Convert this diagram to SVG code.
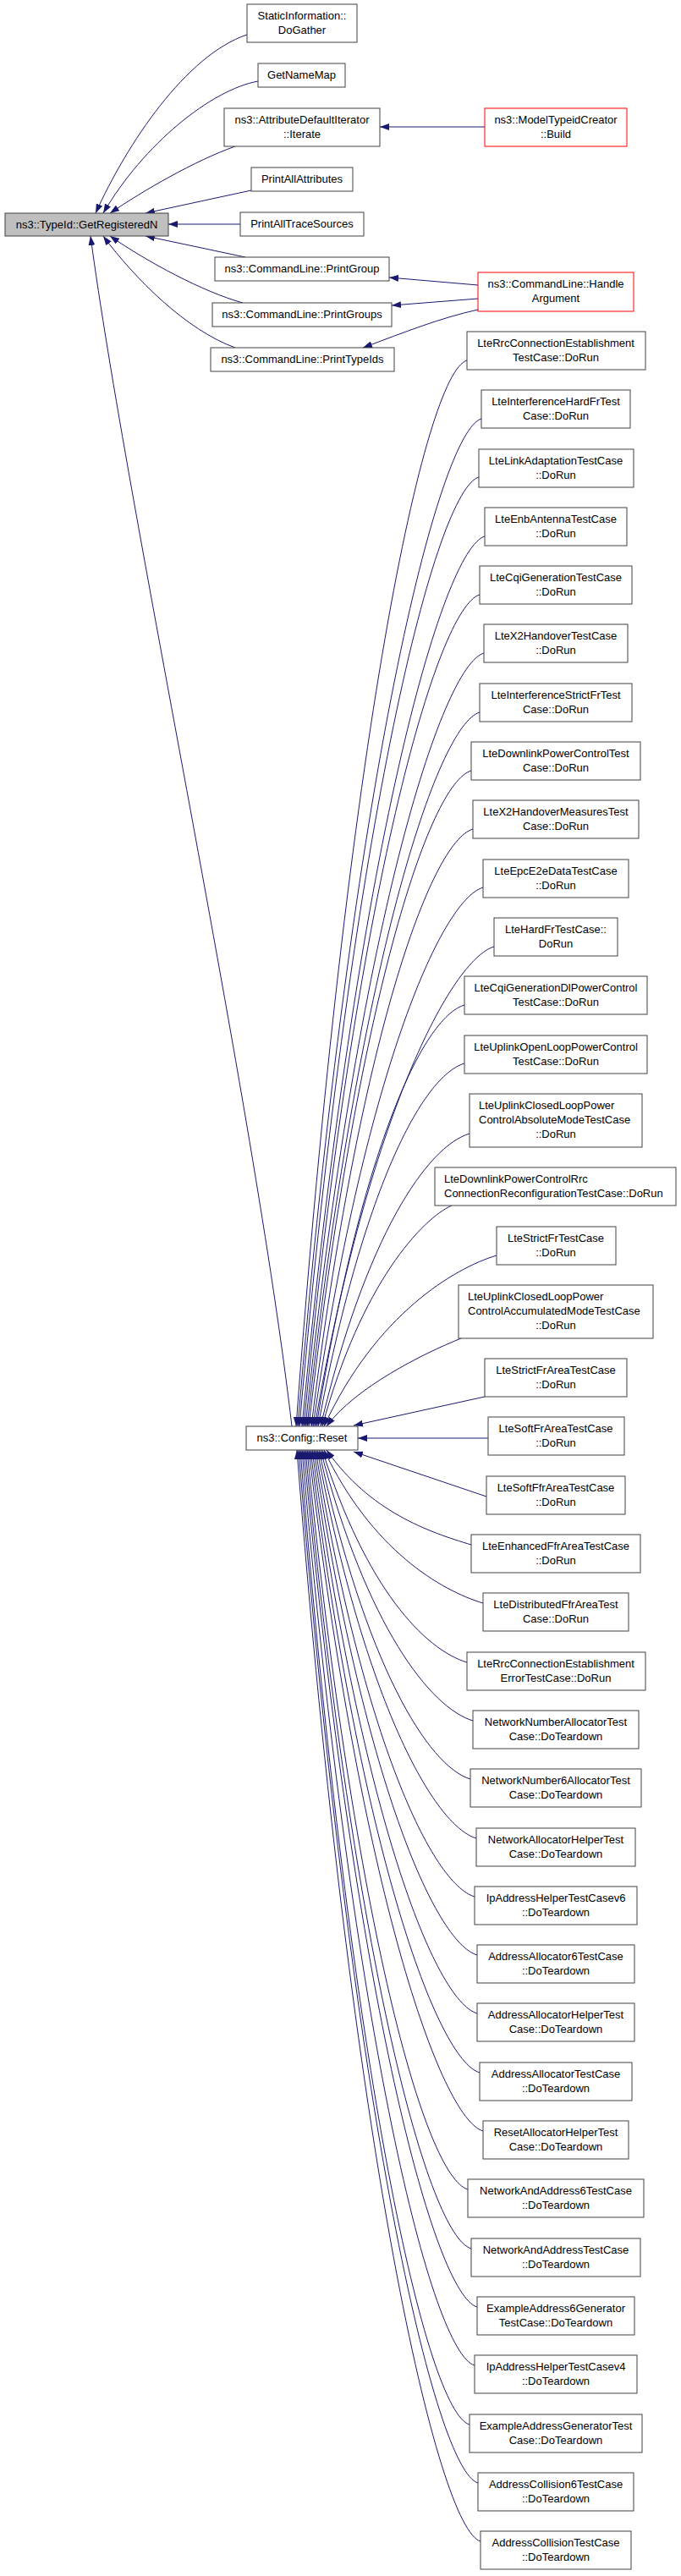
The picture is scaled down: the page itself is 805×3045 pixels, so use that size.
<svg xmlns="http://www.w3.org/2000/svg" width="805" height="3045" viewBox="0 0 805 3045">
<style>
.n rect{fill:#fff;stroke:#404040;stroke-width:1}
.n.h rect{fill:#bfbfbf}
.n.r rect{stroke:#ff0000}
text{font-family:"Liberation Sans",Arial,sans-serif;font-size:13px;fill:#000;text-anchor:middle}
text.l{text-anchor:start}
#edges path{fill:none;stroke:#191970;stroke-width:1;marker-end:url(#a)}
</style>
<defs><marker id="a" markerUnits="userSpaceOnUse" markerWidth="11" markerHeight="8" refX="11" refY="4" orient="auto"><path d="M0,0 L11,4 L0,8 z" fill="#191970"/></marker></defs>
<rect width="805" height="3045" fill="#fff"/>
<g id="edges">
<path d="M292,41 C220,65 150,170 113,252"/>
<path d="M305,96 C250,106 170,170 122,252"/>
<path d="M278,173 C230,190 170,225 130,252"/>
<path d="M297,225 L172,252"/>
<path d="M284,265 L199,265"/>
<path d="M290,304 L172,279"/>
<path d="M287,358 C240,345 175,310 130,279"/>
<path d="M278,411 C220,390 160,330 122,279"/>
<path d="M345,1686 C300,1300 150,600 107,279"/>
<path d="M573,150 L449,150"/>
<path d="M565,337 L460,328"/>
<path d="M565,353 L463,361"/>
<path d="M565,366 C520,376 480,392 429,411"/>
<path d="M552,426 C502,441 411,867 350,1686"/>
<path d="M569,495 C519,510 417,912 352,1686"/>
<path d="M566,564 C516,579 418,957 354,1686"/>
<path d="M573,634 C523,649 422,1002 357,1686"/>
<path d="M567,703 C517,718 421,1047 359,1686"/>
<path d="M572,772 C522,787 424,1092 361,1686"/>
<path d="M567,842 C517,857 424,1137 363,1686"/>
<path d="M557,911 C507,926 423,1182 365,1686"/>
<path d="M559,980 C509,995 425,1227 368,1686"/>
<path d="M571,1049 C521,1064 430,1272 370,1686"/>
<path d="M584,1119 C534,1134 436,1317 372,1686"/>
<path d="M549,1188 C499,1203 426,1362 374,1686"/>
<path d="M549,1257 C499,1272 428,1407 376,1686"/>
<path d="M555,1340 C505,1355 432,1461 379,1686"/>
<path d="M534,1425 C500,1440 427,1516 381,1686"/>
<path d="M587,1484 C537,1499 444,1554 383,1686"/>
<path d="M545,1582 C500,1600 420,1640 386,1686"/>
<path d="M573,1651 L418,1685"/>
<path d="M577,1700 L423,1700"/>
<path d="M575,1769 L418,1716"/>
<path d="M557,1826 C507,1811 437,1787 386,1714"/>
<path d="M571,1895 C521,1880 439,1832 383,1714"/>
<path d="M552,1965 C502,1950 432,1877 381,1714"/>
<path d="M559,2034 C509,2019 433,1922 379,1714"/>
<path d="M556,2103 C506,2088 431,1967 377,1714"/>
<path d="M563,2173 C513,2158 431,2012 375,1714"/>
<path d="M561,2242 C511,2227 429,2057 373,1714"/>
<path d="M564,2311 C514,2296 429,2102 371,1714"/>
<path d="M564,2380 C514,2365 428,2147 369,1714"/>
<path d="M567,2450 C517,2435 427,2192 367,1714"/>
<path d="M571,2519 C521,2504 427,2237 365,1714"/>
<path d="M553,2588 C503,2573 420,2282 363,1714"/>
<path d="M557,2658 C507,2643 420,2328 361,1714"/>
<path d="M564,2727 C514,2712 421,2372 359,1714"/>
<path d="M561,2796 C511,2781 418,2417 357,1714"/>
<path d="M555,2866 C505,2851 415,2463 355,1714"/>
<path d="M565,2935 C515,2920 417,2508 353,1714"/>
<path d="M568,3004 C518,2989 416,2552 351,1714"/>
</g>
<g id="n0" class="n h"><rect x="6" y="252" width="193" height="27"/><text x="102.5" y="270">ns3::TypeId::GetRegisteredN</text></g>
<g id="n1" class="n"><rect x="292" y="5" width="130" height="45"/><text x="357" y="23">StaticInformation::</text><text x="357" y="40">DoGather</text></g>
<g id="n2" class="n"><rect x="305" y="75" width="103" height="28"/><text x="356.5" y="93">GetNameMap</text></g>
<g id="n3" class="n"><rect x="265" y="128" width="184" height="45"/><text x="357" y="146">ns3::AttributeDefaultIterator</text><text x="357" y="163">::Iterate</text></g>
<g id="n4" class="n r"><rect x="573" y="128" width="168" height="45"/><text x="657" y="146">ns3::ModelTypeidCreator</text><text x="657" y="163">::Build</text></g>
<g id="n5" class="n"><rect x="297" y="198" width="120" height="28"/><text x="357" y="216">PrintAllAttributes</text></g>
<g id="n6" class="n"><rect x="284" y="251" width="146" height="28"/><text x="357" y="269">PrintAllTraceSources</text></g>
<g id="n7" class="n"><rect x="254" y="304" width="206" height="28"/><text x="357" y="322">ns3::CommandLine::PrintGroup</text></g>
<g id="n8" class="n"><rect x="251" y="358" width="212" height="28"/><text x="357" y="376">ns3::CommandLine::PrintGroups</text></g>
<g id="n9" class="n"><rect x="249" y="411" width="217" height="28"/><text x="357.5" y="429">ns3::CommandLine::PrintTypeIds</text></g>
<g id="n10" class="n r"><rect x="565" y="322" width="184" height="46"/><text x="657" y="340">ns3::CommandLine::Handle</text><text x="657" y="357">Argument</text></g>
<g id="n11" class="n"><rect x="291" y="1686" width="132" height="28"/><text x="357" y="1704">ns3::Config::Reset</text></g>
<g id="r1" class="n"><rect x="552" y="392" width="211" height="45"/><text x="657" y="410">LteRrcConnectionEstablishment</text><text x="657" y="427">TestCase::DoRun</text></g>
<g id="r2" class="n"><rect x="569" y="461" width="176" height="45"/><text x="657" y="479">LteInterferenceHardFrTest</text><text x="657" y="496">Case::DoRun</text></g>
<g id="r3" class="n"><rect x="566" y="531" width="183" height="45"/><text x="657" y="549">LteLinkAdaptationTestCase</text><text x="657" y="566">::DoRun</text></g>
<g id="r4" class="n"><rect x="573" y="600" width="168" height="45"/><text x="657" y="618">LteEnbAntennaTestCase</text><text x="657" y="635">::DoRun</text></g>
<g id="r5" class="n"><rect x="567" y="669" width="180" height="45"/><text x="657" y="687">LteCqiGenerationTestCase</text><text x="657" y="704">::DoRun</text></g>
<g id="r6" class="n"><rect x="572" y="738" width="170" height="45"/><text x="657" y="756">LteX2HandoverTestCase</text><text x="657" y="773">::DoRun</text></g>
<g id="r7" class="n"><rect x="567" y="808" width="180" height="45"/><text x="657" y="826">LteInterferenceStrictFrTest</text><text x="657" y="843">Case::DoRun</text></g>
<g id="r8" class="n"><rect x="557" y="877" width="200" height="45"/><text x="657" y="895">LteDownlinkPowerControlTest</text><text x="657" y="912">Case::DoRun</text></g>
<g id="r9" class="n"><rect x="559" y="946" width="196" height="45"/><text x="657" y="964">LteX2HandoverMeasuresTest</text><text x="657" y="981">Case::DoRun</text></g>
<g id="r10" class="n"><rect x="571" y="1016" width="172" height="45"/><text x="657" y="1034">LteEpcE2eDataTestCase</text><text x="657" y="1051">::DoRun</text></g>
<g id="r11" class="n"><rect x="584" y="1085" width="146" height="45"/><text x="657" y="1103">LteHardFrTestCase::</text><text x="657" y="1120">DoRun</text></g>
<g id="r12" class="n"><rect x="549" y="1154" width="216" height="45"/><text x="657" y="1172">LteCqiGenerationDlPowerControl</text><text x="657" y="1189">TestCase::DoRun</text></g>
<g id="r13" class="n"><rect x="549" y="1224" width="216" height="45"/><text x="657" y="1242">LteUplinkOpenLoopPowerControl</text><text x="657" y="1259">TestCase::DoRun</text></g>
<g id="r14" class="n"><rect x="555" y="1293" width="204" height="63"/><text class="l" x="566" y="1311">LteUplinkClosedLoopPower</text><text class="l" x="566" y="1328">ControlAbsoluteModeTestCase</text><text x="657" y="1345">::DoRun</text></g>
<g id="r15" class="n"><rect x="514" y="1380" width="285" height="45"/><text class="l" x="525" y="1398">LteDownlinkPowerControlRrc</text><text class="l" x="525" y="1415">ConnectionReconfigurationTestCase::DoRun</text></g>
<g id="r16" class="n"><rect x="587" y="1450" width="141" height="45"/><text x="657" y="1468">LteStrictFrTestCase</text><text x="657" y="1485">::DoRun</text></g>
<g id="r17" class="n"><rect x="542" y="1519" width="230" height="63"/><text class="l" x="553" y="1537">LteUplinkClosedLoopPower</text><text class="l" x="553" y="1554">ControlAccumulatedModeTestCase</text><text x="657" y="1571">::DoRun</text></g>
<g id="r18" class="n"><rect x="573" y="1606" width="168" height="45"/><text x="657" y="1624">LteStrictFrAreaTestCase</text><text x="657" y="1641">::DoRun</text></g>
<g id="r19" class="n"><rect x="577" y="1675" width="161" height="45"/><text x="657" y="1693">LteSoftFrAreaTestCase</text><text x="657" y="1710">::DoRun</text></g>
<g id="r20" class="n"><rect x="575" y="1745" width="164" height="45"/><text x="657" y="1763">LteSoftFfrAreaTestCase</text><text x="657" y="1780">::DoRun</text></g>
<g id="r21" class="n"><rect x="557" y="1814" width="200" height="45"/><text x="657" y="1832">LteEnhancedFfrAreaTestCase</text><text x="657" y="1849">::DoRun</text></g>
<g id="r22" class="n"><rect x="571" y="1883" width="172" height="45"/><text x="657" y="1901">LteDistributedFfrAreaTest</text><text x="657" y="1918">Case::DoRun</text></g>
<g id="r23" class="n"><rect x="552" y="1953" width="211" height="45"/><text x="657" y="1971">LteRrcConnectionEstablishment</text><text x="657" y="1988">ErrorTestCase::DoRun</text></g>
<g id="r24" class="n"><rect x="559" y="2022" width="196" height="45"/><text x="657" y="2040">NetworkNumberAllocatorTest</text><text x="657" y="2057">Case::DoTeardown</text></g>
<g id="r25" class="n"><rect x="556" y="2091" width="202" height="45"/><text x="657" y="2109">NetworkNumber6AllocatorTest</text><text x="657" y="2126">Case::DoTeardown</text></g>
<g id="r26" class="n"><rect x="563" y="2161" width="188" height="45"/><text x="657" y="2179">NetworkAllocatorHelperTest</text><text x="657" y="2196">Case::DoTeardown</text></g>
<g id="r27" class="n"><rect x="561" y="2230" width="192" height="45"/><text x="657" y="2248">IpAddressHelperTestCasev6</text><text x="657" y="2265">::DoTeardown</text></g>
<g id="r28" class="n"><rect x="564" y="2299" width="186" height="45"/><text x="657" y="2317">AddressAllocator6TestCase</text><text x="657" y="2334">::DoTeardown</text></g>
<g id="r29" class="n"><rect x="564" y="2368" width="186" height="45"/><text x="657" y="2386">AddressAllocatorHelperTest</text><text x="657" y="2403">Case::DoTeardown</text></g>
<g id="r30" class="n"><rect x="567" y="2438" width="180" height="45"/><text x="657" y="2456">AddressAllocatorTestCase</text><text x="657" y="2473">::DoTeardown</text></g>
<g id="r31" class="n"><rect x="571" y="2507" width="172" height="45"/><text x="657" y="2525">ResetAllocatorHelperTest</text><text x="657" y="2542">Case::DoTeardown</text></g>
<g id="r32" class="n"><rect x="553" y="2576" width="208" height="45"/><text x="657" y="2594">NetworkAndAddress6TestCase</text><text x="657" y="2611">::DoTeardown</text></g>
<g id="r33" class="n"><rect x="557" y="2646" width="200" height="45"/><text x="657" y="2664">NetworkAndAddressTestCase</text><text x="657" y="2681">::DoTeardown</text></g>
<g id="r34" class="n"><rect x="564" y="2715" width="186" height="45"/><text x="657" y="2733">ExampleAddress6Generator</text><text x="657" y="2750">TestCase::DoTeardown</text></g>
<g id="r35" class="n"><rect x="561" y="2784" width="192" height="45"/><text x="657" y="2802">IpAddressHelperTestCasev4</text><text x="657" y="2819">::DoTeardown</text></g>
<g id="r36" class="n"><rect x="555" y="2854" width="204" height="45"/><text x="657" y="2872">ExampleAddressGeneratorTest</text><text x="657" y="2889">Case::DoTeardown</text></g>
<g id="r37" class="n"><rect x="565" y="2923" width="184" height="45"/><text x="657" y="2941">AddressCollision6TestCase</text><text x="657" y="2958">::DoTeardown</text></g>
<g id="r38" class="n"><rect x="568" y="2992" width="178" height="45"/><text x="657" y="3010">AddressCollisionTestCase</text><text x="657" y="3027">::DoTeardown</text></g>
</svg>
